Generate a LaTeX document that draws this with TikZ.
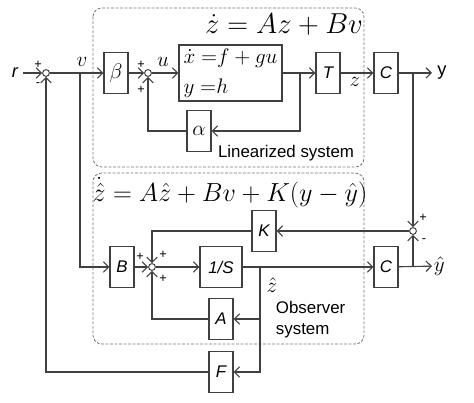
\RequirePackage{fix-cm}
\documentclass[tikz,border=0pt]{standalone}
\usepackage{fontspec}
\setmainfont{Liberation Sans}
\usetikzlibrary{arrows.meta}

\colorlet{wire}{black!75}
\tikzset{
  block/.style={draw=wire, minimum width=6mm, minimum height=10.25mm, inner sep=1pt,
    font=\fontsize{12}{14}\selectfont\itshape},
  summ/.style={draw=wire, circle, inner sep=0pt, minimum size=1.7mm, line width=0.7pt},
  sgn/.style={inner sep=0pt, font=\fontsize{9}{10}\selectfont},
  frame/.style={draw=black!55, dashed, dash pattern=on 2pt off 1.2pt, line width=0.55pt, rounded corners=2.2mm},
  eqn/.style={inner sep=0pt, font=\fontsize{20.5}{24}\selectfont},
  lbl/.style={inner sep=1pt, font=\fontsize{15}{17}\selectfont},
  note/.style={inner sep=1pt, font=\fontsize{12}{15}\selectfont}
}

\begin{document}
\begin{tikzpicture}[x=0.25mm, y=-0.25mm, >={Straight Barb[length=1.3mm,width=2.6mm]}, line width=0.8pt, draw=wire]
  \useasboundingbox (0,0) rectangle (474,403);

  % the two subsystems
  \draw[frame] (93,8) rectangle (364,167);
  \draw[frame] (93,173) rectangle (364,344);
  \node[eqn] (eqlin) at (284,25) {$\dot z = Az + Bv$};
  \node[eqn, font=\fontsize{18.6}{22}\selectfont] (eqobs) at (230,193) {$\dot{\hat z} = A\hat z + Bv + K(y-\hat y)$};
  \node[note] (linname) at (286,153) {Linearized system};
  \node[note, align=left, anchor=west] (obsname) at (274,320) {Observer\\system};

  % linearized plant
  \node (r) at (15,73) {\fontsize{13}{15}\selectfont\itshape r};
  \node[summ] (s1) at (46,73) {};
  \node[block] (beta) at (116,73) {\fontsize{15}{17}\selectfont$\beta$};
  \node[summ] (s2) at (148,73) {};
  \node[block, minimum width=25.75mm, minimum height=14mm, align=left, font=\fontsize{15}{21}\selectfont] (plant) at (230.5,73)
    {$\dot x\;{=}f + gu$\\$y\;{=}h$};
  \node[block] (T) at (328,73) {T};
  \node[block] (C1) at (386,73) {C};
  \node[block] (alpha) at (199,131) {\fontsize{15}{17}\selectfont$\alpha$};
  \node[anchor=west, font=\fontsize{13}{15}\selectfont] (y) at (432,73) {y};

  % observer
  \node[block] (K) at (264,231) {K};
  \node[summ] (s3) at (413,231) {};
  \node[block] (B) at (122,267) {B};
  \node[summ] (s4) at (152,267) {};
  \node[block, minimum width=10.5mm] (integ) at (221,267) {1/S};
  \node[block] (C2) at (386,267) {C};
  \node[block] (A) at (221,319) {A};
  \node[block] (F) at (221,372) {F};
  \node[lbl, anchor=west] (yhat) at (432,266) {$\hat y$};

  % branch points
  \coordinate (tapv) at (80,73);
  \coordinate (tapx) at (300,73);
  \coordinate (tapy) at (413,73);
  \coordinate (tapyh) at (413,267);
  \coordinate (tapz) at (260,267);

  % signal labels
  \node[lbl] (vname) at (82,62) {$v$};
  \node[lbl] (uname) at (163,62) {$u$};
  \node[lbl] (zname) at (355,82) {$z$};
  \node[lbl] (zhname) at (272,285) {$\hat z$};

  % signs at the summing points
  \node[sgn] (s1a) at (38,65) {+};
  \node[sgn] (s1b) at (38,85) {-};
  \node[sgn] (s2a) at (141,65) {+};
  \node[sgn] (s2b) at (141,90) {+};
  \node[sgn] (s3a) at (423,218) {+};
  \node[sgn] (s3b) at (424,241) {-};
  \node[sgn] (s4a) at (140,257) {+};
  \node[sgn] (s4b) at (163,255) {+};
  \node[sgn] (s4c) at (163,279) {+};

  % connectors
  \draw[->] (r) -- (s1);
  \draw[->] (s1) -- (beta);
  \draw[->] (beta) -- (s2);
  \draw[->] (s2) -- (plant);
  \draw[->] (plant) -- (T);
  \draw[->] (T) -- (C1);
  \draw[->] (C1) -- (y);
  \draw[->] (tapx) |- (alpha);
  \draw[->] (alpha) -| (s2);
  \draw[->] (tapv) |- (B);
  \draw[->] (tapy) -- (s3);
  \draw[->] (tapyh) -- (s3);
  \draw[->] (s3) -- (K);
  \draw[->] (K) -| (s4);
  \draw[->] (B) -- (s4);
  \draw[->] (s4) -- (integ);
  \draw[->] (integ) -- (C2);
  \draw[->] (C2) -- (yhat);
  \draw[->] (tapz) |- (A);
  \draw[->] (tapz) |- (F);
  \draw[->] (A) -| (s4);
  \draw[->] (F) -| (s1);
\end{tikzpicture}
\end{document}
